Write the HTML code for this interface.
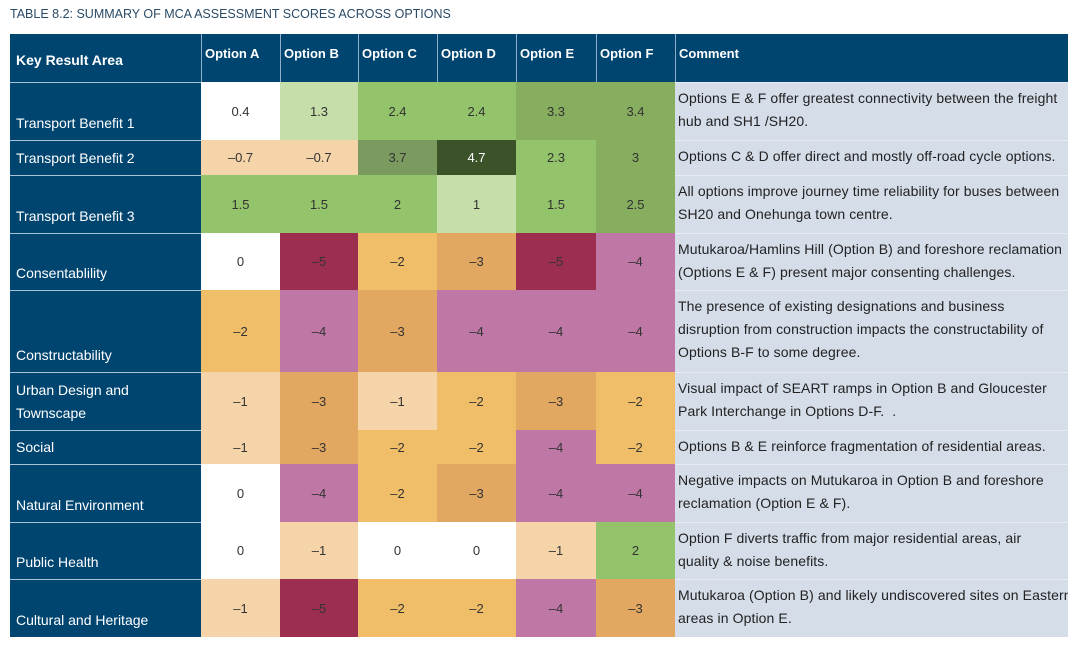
<!DOCTYPE html>
<html><head><meta charset="utf-8">
<style>
body{margin:0;width:1081px;height:651px;background:#fff;position:relative;overflow:hidden;font-family:"Liberation Sans",sans-serif;}
.t{position:absolute;left:10px;top:7px;font-size:12.5px;color:#2a4a66;}
.c{position:absolute;box-sizing:border-box;font-size:13px;color:#333;}
.h{background:#004570;color:#fff;font-weight:bold;font-size:13px;padding:12px 3px 0 3px;}
.k{background:#004570;color:#fff;font-size:14px;padding-left:6px;display:flex;align-items:flex-end;padding-bottom:5px;line-height:23px;}
.v{display:flex;align-items:center;justify-content:center;}
.m{background:#d5dde9;padding:4px 0 0 3px;line-height:23px;font-size:14px;letter-spacing:0.1px;color:#222;white-space:nowrap;overflow:hidden;}
</style></head><body>
<div class="t">TABLE 8.2: SUMMARY OF MCA ASSESSMENT SCORES ACROSS OPTIONS</div>
<div id="tbl"></div>
<script>
const options=["Option A","Option B","Option C","Option D","Option E","Option F"];
const areas=["Transport Benefit 1","Transport Benefit 2","Transport Benefit 3","Consentablility","Constructability","Urban Design and<br>Townscape","Social","Natural Environment","Public Health","Cultural and Heritage"];
const scoreA=[0.4,-0.7,1.5,0,-2,-1,-1,0,0,-1];
const scoreB=[1.3,-0.7,1.5,-5,-4,-3,-3,-4,-1,-5];
const scoreC=[2.4,3.7,2,-2,-3,-1,-2,-2,0,-2];
const scoreD=[2.4,4.7,1,-3,-4,-2,-2,-3,0,-2];
const scoreE=[3.3,2.3,1.5,-5,-4,-3,-4,-4,-1,-4];
const scoreF=[3.4,3,2.5,-4,-4,-2,-2,-4,2,-3];
const comments=["Options E &amp; F offer greatest connectivity between the freight<br>hub and SH1 /SH20.","Options C &amp; D offer direct and mostly off-road cycle options.","All options improve journey time reliability for buses between<br>SH20 and Onehunga town centre.","Mutukaroa/Hamlins Hill (Option B) and foreshore reclamation<br>(Options E &amp; F) present major consenting challenges.","The presence of existing designations and business<br>disruption from construction impacts the constructability of<br>Options B-F to some degree.","Visual impact of SEART ramps in Option B and Gloucester<br>Park Interchange in Options D-F.&nbsp; .","Options B &amp; E reinforce fragmentation of residential areas.","Negative impacts on Mutukaroa in Option B and foreshore<br>reclamation (Option E &amp; F).","Option F diverts traffic from major residential areas, air<br>quality &amp; noise benefits.","Mutukaroa (Option B) and likely undiscovered sites on Eastern<br>areas in Option E."];
const scores=[scoreA,scoreB,scoreC,scoreD,scoreE,scoreF];
const colX=[10,201,280,358,437,516,596,675,1068];
const rowY=[34,82,140,175,233,290,372,430,464,522,579,637];
function color(v){
 if(v>=4)return "#3c5329"; if(v>=3.5)return "#7a9a60"; if(v>=2.5)return "#87ad5e";
 if(v>=1.5)return "#93c46b"; if(v>=1)return "#c6dfaa"; if(v>-0.5)return "#ffffff";
 if(v>=-1)return "#f6d4a9"; if(v>=-2)return "#f0be68"; if(v>=-3)return "#e2a862";
 if(v>=-4)return "#bf78a6"; return "#9c2f50";
}
const tbl=document.getElementById('tbl');
function box(cls,x,y,w,h,html){const d=document.createElement('div');d.className='c '+cls;
 d.style.left=x+'px';d.style.top=y+'px';d.style.width=w+'px';d.style.height=h+'px';d.innerHTML=html;tbl.appendChild(d);return d;}
let d=box('h',colX[0],rowY[0],colX[1]-colX[0],rowY[1]-rowY[0],'Key Result Area');d.style.padding='18px 0 0 6px';d.style.fontSize='14px';


options.forEach((o,i)=>{const e=box('h',colX[i+1],rowY[0],colX[i+2]-colX[i+1],rowY[1]-rowY[0],o);e.style.borderLeft='1px solid #8fb0c8';
 
 });
d=box('h',colX[7],rowY[0],colX[8]-colX[7],rowY[1]-rowY[0],'Comment');d.style.borderLeft='1px solid #8fb0c8';


areas.forEach((a,r)=>{const y=rowY[r+1],h=rowY[r+2]-rowY[r+1];
 const k=box('k',colX[0],y,colX[1]-colX[0],h,'<span>'+a+'</span>');k.style.borderTop='1px solid #a9c3d6';
 
 
 scores.forEach((s,i)=>{const v=s[r];const e=box('v',colX[i+1],y,colX[i+2]-colX[i+1],h,String(v).replace('-','\u2013'));
  e.style.background=color(v);if(v>=4)e.style.color='#fff';
  
  });
 const m=box('m',colX[7],y,colX[8]-colX[7],h,comments[r]);m.style.borderTop='1px solid #e8edf3';
 
 
});
</script>
</body></html>
